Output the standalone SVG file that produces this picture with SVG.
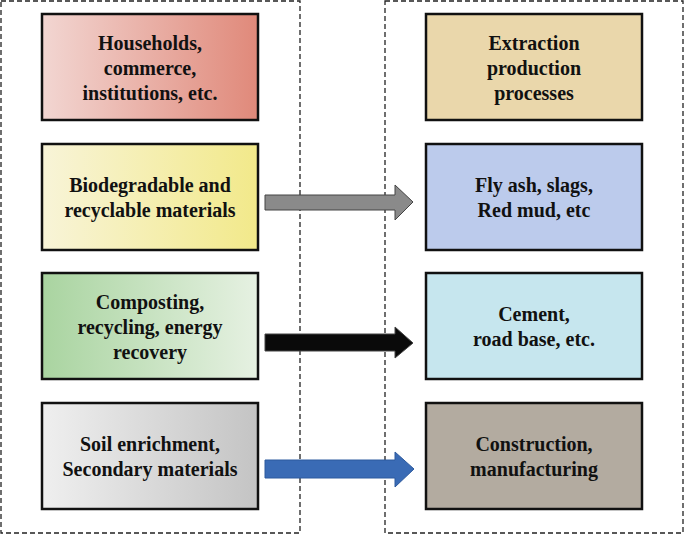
<svg xmlns="http://www.w3.org/2000/svg" width="685" height="536" viewBox="0 0 685 536">
<style>
.frame{fill:none;stroke:#222;stroke-width:1.3;stroke-dasharray:5,3}
.box{stroke:#111;stroke-width:2.5}
text{font-family:"Liberation Serif","Times New Roman",serif;font-weight:bold;font-size:20px;fill:#111;text-anchor:middle}
.arr{stroke:#444;stroke-width:1}
</style>
<defs>
<linearGradient id="g1" x1="0" y1="0" x2="1" y2="0"><stop offset="0" stop-color="#f2d6d2"/><stop offset="1" stop-color="#e0897a"/></linearGradient>
<linearGradient id="g2" x1="0" y1="0" x2="1" y2="0"><stop offset="0" stop-color="#f8f4d8"/><stop offset="1" stop-color="#f2e98a"/></linearGradient>
<linearGradient id="g3" x1="0" y1="0" x2="1" y2="0"><stop offset="0" stop-color="#a9d4a0"/><stop offset="1" stop-color="#e6f1e2"/></linearGradient>
<linearGradient id="g4" x1="0" y1="0" x2="1" y2="0"><stop offset="0" stop-color="#efefef"/><stop offset="1" stop-color="#c4c4c4"/></linearGradient>
</defs>
<rect class="frame" x="1" y="1" width="299" height="532"/>
<rect class="frame" x="385" y="1" width="298" height="532"/>
<g id="connectors">
<polygon points="265,195 395,195 395,185 413,202 395,220 395,210 265,210" fill="#8a8a8a" class="arr"/>
<polygon points="265,334 395,334 395,327 413,343 395,358 395,351 265,351" fill="#0a0a0a" class="arr"/>
<polygon points="265,460 395,460 395,452 414,469 395,487 395,478 265,478" fill="#3a6bb5" stroke="#2d5a9e"/>
</g>
<g id="n1"><rect class="box" x="42" y="14" width="216" height="106" fill="url(#g1)"/><text x="150" y="50">Households,</text><text x="150" y="75">commerce,</text><text x="150" y="100">institutions, etc.</text></g>
<g id="n2"><rect class="box" x="42" y="144" width="216" height="106" fill="url(#g2)"/><text x="150" y="192">Biodegradable and</text><text x="150" y="217">recyclable materials</text></g>
<g id="n3"><rect class="box" x="42" y="273" width="216" height="106" fill="url(#g3)"/><text x="150" y="309">Composting,</text><text x="150" y="334">recycling, energy</text><text x="150" y="359">recovery</text></g>
<g id="n4"><rect class="box" x="42" y="403" width="216" height="106" fill="url(#g4)"/><text x="150" y="451">Soil enrichment,</text><text x="150" y="476">Secondary materials</text></g>
<g id="n5"><rect class="box" x="426" y="14" width="216" height="106" fill="#ead7ab"/><text x="534" y="50">Extraction</text><text x="534" y="75">production</text><text x="534" y="100">processes</text></g>
<g id="n6"><rect class="box" x="426" y="144" width="216" height="106" fill="#bccbec"/><text x="534" y="192">Fly ash, slags,</text><text x="534" y="217">Red mud, etc</text></g>
<g id="n7"><rect class="box" x="426" y="273" width="216" height="106" fill="#c6e6ee"/><text x="534" y="321">Cement,</text><text x="534" y="346">road base, etc.</text></g>
<g id="n8"><rect class="box" x="426" y="403" width="216" height="106" fill="#b3aba0"/><text x="534" y="451">Construction,</text><text x="534" y="476">manufacturing</text></g>
</svg>
